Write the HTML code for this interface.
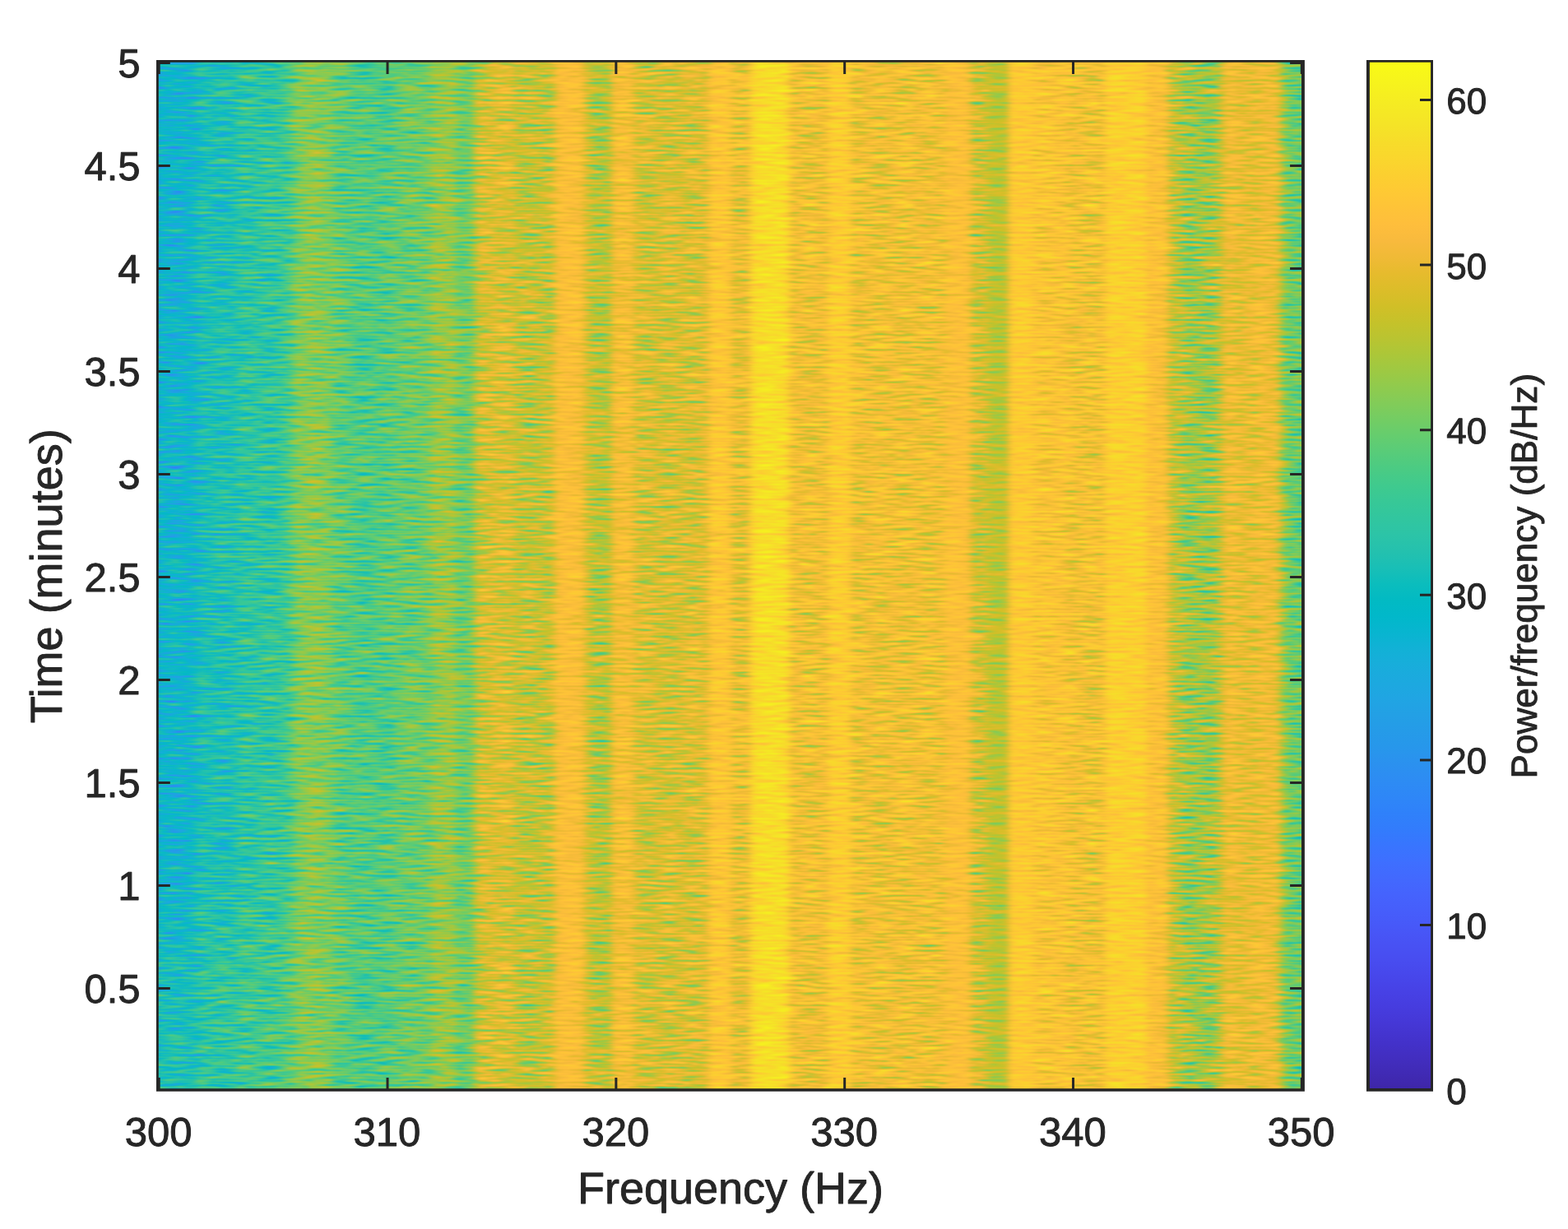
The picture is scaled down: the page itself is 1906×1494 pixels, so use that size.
<!DOCTYPE html>
<html lang="en"><head><meta charset="utf-8"><title>Spectrogram</title>
<style>html,body{margin:0;padding:0;background:#fff}body{width:1906px;height:1494px;overflow:hidden}svg{display:block}text{font-family:"Liberation Sans",Arial,Helvetica,sans-serif;fill:#262626;stroke:#262626;stroke-width:0.9;stroke-linejoin:round;text-rendering:geometricPrecision}</style>
</head><body>
<svg width="1906" height="1494" viewBox="0 0 1906 1494">
<defs>
<linearGradient id="prof" gradientUnits="userSpaceOnUse" x1="180" y1="0" x2="1596" y2="0">
<stop offset="0.0000" stop-color="#75cc00"/>
<stop offset="0.0381" stop-color="#75cc00"/>
<stop offset="0.0466" stop-color="#83cc00"/>
<stop offset="0.0734" stop-color="#85cc00"/>
<stop offset="0.0805" stop-color="#8dcc00"/>
<stop offset="0.1102" stop-color="#8fbf00"/>
<stop offset="0.1201" stop-color="#97b200"/>
<stop offset="0.1285" stop-color="#aa9900"/>
<stop offset="0.1412" stop-color="#ae9900"/>
<stop offset="0.1540" stop-color="#aa9900"/>
<stop offset="0.1624" stop-color="#a2b200"/>
<stop offset="0.1751" stop-color="#9db200"/>
<stop offset="0.1836" stop-color="#9bb200"/>
<stop offset="0.2048" stop-color="#9db200"/>
<stop offset="0.2133" stop-color="#a2b200"/>
<stop offset="0.2401" stop-color="#a6a600"/>
<stop offset="0.2472" stop-color="#b29900"/>
<stop offset="0.2613" stop-color="#b29900"/>
<stop offset="0.2669" stop-color="#a6a600"/>
<stop offset="0.2768" stop-color="#a6a600"/>
<stop offset="0.2839" stop-color="#c4b200"/>
<stop offset="0.2966" stop-color="#c8b200"/>
<stop offset="0.3107" stop-color="#c8b200"/>
<stop offset="0.3178" stop-color="#c0bf00"/>
<stop offset="0.3355" stop-color="#c0bf00"/>
<stop offset="0.3460" stop-color="#c2bf00"/>
<stop offset="0.3517" stop-color="#d65900"/>
<stop offset="0.3616" stop-color="#d74c00"/>
<stop offset="0.3715" stop-color="#d65900"/>
<stop offset="0.3785" stop-color="#c2b200"/>
<stop offset="0.3842" stop-color="#bcb200"/>
<stop offset="0.3955" stop-color="#bcb200"/>
<stop offset="0.4004" stop-color="#d37300"/>
<stop offset="0.4138" stop-color="#d57300"/>
<stop offset="0.4195" stop-color="#c8b200"/>
<stop offset="0.4379" stop-color="#c6b200"/>
<stop offset="0.4661" stop-color="#c8b200"/>
<stop offset="0.4788" stop-color="#cab200"/>
<stop offset="0.4845" stop-color="#dd5900"/>
<stop offset="0.4979" stop-color="#dd5900"/>
<stop offset="0.5028" stop-color="#cfb200"/>
<stop offset="0.5141" stop-color="#cfb200"/>
<stop offset="0.5198" stop-color="#e95900"/>
<stop offset="0.5311" stop-color="#ed4c00"/>
<stop offset="0.5473" stop-color="#eb5900"/>
<stop offset="0.5537" stop-color="#d3a600"/>
<stop offset="0.5685" stop-color="#d3a600"/>
<stop offset="0.5819" stop-color="#d3a600"/>
<stop offset="0.5869" stop-color="#e15900"/>
<stop offset="0.6010" stop-color="#e15900"/>
<stop offset="0.6059" stop-color="#d3a600"/>
<stop offset="0.6427" stop-color="#d3a600"/>
<stop offset="0.6822" stop-color="#d3a600"/>
<stop offset="0.6879" stop-color="#d84c00"/>
<stop offset="0.7034" stop-color="#d84c00"/>
<stop offset="0.7090" stop-color="#c6b200"/>
<stop offset="0.7189" stop-color="#c4b200"/>
<stop offset="0.7246" stop-color="#bc6600"/>
<stop offset="0.7366" stop-color="#bc6600"/>
<stop offset="0.7408" stop-color="#df4c00"/>
<stop offset="0.7556" stop-color="#e04c00"/>
<stop offset="0.7613" stop-color="#db8000"/>
<stop offset="0.7874" stop-color="#d98000"/>
<stop offset="0.7945" stop-color="#d5a600"/>
<stop offset="0.8192" stop-color="#d5a600"/>
<stop offset="0.8249" stop-color="#e34c00"/>
<stop offset="0.8545" stop-color="#e34c00"/>
<stop offset="0.8595" stop-color="#d85900"/>
<stop offset="0.8729" stop-color="#d85900"/>
<stop offset="0.8785" stop-color="#c2cc00"/>
<stop offset="0.8884" stop-color="#bad900"/>
<stop offset="0.8927" stop-color="#b4d900"/>
<stop offset="0.9124" stop-color="#b4d900"/>
<stop offset="0.9195" stop-color="#bed900"/>
<stop offset="0.9251" stop-color="#cf8000"/>
<stop offset="0.9322" stop-color="#d18000"/>
<stop offset="0.9364" stop-color="#cd8c00"/>
<stop offset="0.9506" stop-color="#cd8c00"/>
<stop offset="0.9548" stop-color="#d17300"/>
<stop offset="0.9689" stop-color="#cf8000"/>
<stop offset="0.9753" stop-color="#b0bf00"/>
<stop offset="0.9816" stop-color="#a4bf00"/>
<stop offset="1.0000" stop-color="#a4bf00"/>
</linearGradient>
<linearGradient id="cb" gradientUnits="userSpaceOnUse" x1="0" y1="74.56" x2="0" y2="1325.1">
<stop offset="0.0000" stop-color="#f9fb15"/>
<stop offset="0.0159" stop-color="#f7f51b"/>
<stop offset="0.0317" stop-color="#f6ef20"/>
<stop offset="0.0476" stop-color="#f5e924"/>
<stop offset="0.0635" stop-color="#f5e327"/>
<stop offset="0.0794" stop-color="#f7dc2a"/>
<stop offset="0.0952" stop-color="#fad62d"/>
<stop offset="0.1111" stop-color="#fccf30"/>
<stop offset="0.1270" stop-color="#fec934"/>
<stop offset="0.1429" stop-color="#fec338"/>
<stop offset="0.1587" stop-color="#febe3c"/>
<stop offset="0.1746" stop-color="#f8ba3d"/>
<stop offset="0.1905" stop-color="#f0ba36"/>
<stop offset="0.2063" stop-color="#e6bb2d"/>
<stop offset="0.2222" stop-color="#dcbd29"/>
<stop offset="0.2381" stop-color="#d1bf27"/>
<stop offset="0.2540" stop-color="#c5c22a"/>
<stop offset="0.2698" stop-color="#b9c431"/>
<stop offset="0.2857" stop-color="#abc739"/>
<stop offset="0.3016" stop-color="#9dc943"/>
<stop offset="0.3175" stop-color="#8fcb4e"/>
<stop offset="0.3333" stop-color="#81cc59"/>
<stop offset="0.3492" stop-color="#72cd64"/>
<stop offset="0.3651" stop-color="#64cd6f"/>
<stop offset="0.3810" stop-color="#57cc7a"/>
<stop offset="0.3968" stop-color="#4acb84"/>
<stop offset="0.4127" stop-color="#3fca8e"/>
<stop offset="0.4286" stop-color="#37c897"/>
<stop offset="0.4444" stop-color="#31c69f"/>
<stop offset="0.4603" stop-color="#2cc4a7"/>
<stop offset="0.4762" stop-color="#24c1ae"/>
<stop offset="0.4921" stop-color="#19bfb6"/>
<stop offset="0.5079" stop-color="#0bbdbd"/>
<stop offset="0.5238" stop-color="#02bac3"/>
<stop offset="0.5397" stop-color="#01b8ca"/>
<stop offset="0.5556" stop-color="#08b5d0"/>
<stop offset="0.5714" stop-color="#12b1d6"/>
<stop offset="0.5873" stop-color="#18addb"/>
<stop offset="0.6032" stop-color="#1ca9df"/>
<stop offset="0.6190" stop-color="#20a5e3"/>
<stop offset="0.6349" stop-color="#23a0e5"/>
<stop offset="0.6508" stop-color="#259be8"/>
<stop offset="0.6667" stop-color="#2797eb"/>
<stop offset="0.6825" stop-color="#2b91ef"/>
<stop offset="0.6984" stop-color="#2d8cf3"/>
<stop offset="0.7143" stop-color="#2e87f7"/>
<stop offset="0.7302" stop-color="#2f81fa"/>
<stop offset="0.7460" stop-color="#327cfc"/>
<stop offset="0.7619" stop-color="#3875fe"/>
<stop offset="0.7778" stop-color="#3e6fff"/>
<stop offset="0.7937" stop-color="#4269fe"/>
<stop offset="0.8095" stop-color="#4563fd"/>
<stop offset="0.8254" stop-color="#465efb"/>
<stop offset="0.8413" stop-color="#4758f8"/>
<stop offset="0.8571" stop-color="#4852f4"/>
<stop offset="0.8730" stop-color="#484df0"/>
<stop offset="0.8889" stop-color="#4747eb"/>
<stop offset="0.9048" stop-color="#4741e5"/>
<stop offset="0.9206" stop-color="#463cde"/>
<stop offset="0.9365" stop-color="#4537d5"/>
<stop offset="0.9524" stop-color="#4332cb"/>
<stop offset="0.9683" stop-color="#422ec0"/>
<stop offset="0.9841" stop-color="#402ab4"/>
<stop offset="1.0000" stop-color="#3e26a8"/>
</linearGradient>
<filter id="hm" filterUnits="userSpaceOnUse" x="180" y="60" width="1416" height="1280" color-interpolation-filters="sRGB">
<feTurbulence type="fractalNoise" baseFrequency="0.035 0.33" numOctaves="1" seed="7" result="n"/>
<feColorMatrix in="n" type="matrix" values="1 0 0 0 0 1 0 0 0 0 1 0 0 0 0 0 0 0 0 1" result="nc"/>
<feTurbulence type="fractalNoise" baseFrequency="0.3 0.25" numOctaves="1" seed="18" result="m"/>
<feColorMatrix in="m" type="matrix" values="1 0 0 0 0 1 0 0 0 0 1 0 0 0 0 0 0 0 0 1" result="nf"/>
<feComposite in="nc" in2="nf" operator="arithmetic" k1="0" k2="0.720" k3="0.500" k4="-0.1100" result="ng1"/>
<feColorMatrix in="ng1" type="matrix" values="1 0 0 0 0 0 1 0 0 0 0 0 1 0 0 0 0 0 0 1" result="ng2"/>
<feComponentTransfer in="ng2" result="ng"><feFuncR type="table" tableValues="0 0.1 0.2 0.3 0.4 0.5 0.57 0.64 0.71 0.78 0.85"/><feFuncG type="table" tableValues="0 0.1 0.2 0.3 0.4 0.5 0.57 0.64 0.71 0.78 0.85"/><feFuncB type="table" tableValues="0 0.1 0.2 0.3 0.4 0.5 0.57 0.64 0.71 0.78 0.85"/></feComponentTransfer>
<feColorMatrix in="SourceGraphic" type="matrix" values="0 1 0 0 0 0 1 0 0 0 0 1 0 0 0 0 0 0 0 1" result="amp"/>
<feColorMatrix in="SourceGraphic" type="matrix" values="1 0 0 0 0 1 0 0 0 0 1 0 0 0 0 0 0 0 0 1" result="mean"/>
<feComposite in="amp" in2="ng" operator="arithmetic" k1="1" k2="-0.5" k3="0" k4="0.5" result="t1"/>
<feColorMatrix in="t1" type="matrix" values="1 0 0 0 0 0 1 0 0 0 0 0 1 0 0 0 0 0 0 1" result="t2"/>
<feComposite in="mean" in2="t2" operator="arithmetic" k1="0" k2="1" k3="1.000" k4="-0.5000" result="v"/>
<feColorMatrix in="v" type="matrix" values="1 0 0 0 0 0 1 0 0 0 0 0 1 0 0 0 0 0 0 1" result="v1"/>
<feComponentTransfer in="v1" result="c">
<feFuncR type="table" tableValues=".242 .250 .258 .265 .271 .275 .278 .280 .281 .281 .280 .276 .270 .260 .244 .221 .196 .183 .179 .176 .169 .154 .146 .138 .125 .111 .095 .069 .030 .004 .007 .043 .096 .141 .172 .194 .216 .247 .291 .341 .391 .446 .504 .562 .617 .672 .724 .774 .820 .863 .903 .939 .973 .996 .997 .995 .989 .979 .968 .961 .960 .963 .969 .977"/>
<feFuncG type="table" tableValues=".150 .165 .182 .198 .215 .234 .256 .278 .301 .323 .345 .367 .389 .412 .436 .460 .485 .507 .529 .550 .570 .590 .609 .628 .646 .663 .680 .695 .708 .720 .731 .741 .750 .758 .767 .776 .784 .792 .797 .801 .803 .802 .799 .794 .788 .779 .770 .760 .750 .741 .733 .729 .730 .743 .766 .789 .814 .839 .864 .889 .913 .937 .961 .984"/>
<feFuncB type="table" tableValues=".660 .708 .751 .795 .836 .871 .899 .922 .941 .958 .972 .983 .991 .995 .999 .997 .989 .980 .968 .952 .936 .922 .908 .897 .888 .876 .860 .839 .816 .792 .766 .739 .712 .684 .655 .625 .592 .557 .519 .479 .435 .391 .348 .304 .261 .223 .191 .165 .153 .160 .177 .210 .239 .237 .220 .203 .189 .177 .164 .154 .142 .127 .106 .081"/>
</feComponentTransfer>
<feGaussianBlur in="c" stdDeviation="3.5 0.6"/>
</filter>
<linearGradient id="ov1" gradientUnits="userSpaceOnUse" x1="0" y1="1060" x2="0" y2="1330"><stop offset="0" stop-color="#b8bf00" stop-opacity="0"/><stop offset="0.45" stop-color="#b8bf00" stop-opacity="0.18"/><stop offset="1" stop-color="#b8bf00" stop-opacity="0.22"/></linearGradient>
<clipPath id="axclip"><rect x="191" y="74.1" width="1393.9" height="1251.75"/></clipPath>
</defs>
<rect x="0" y="0" width="1906" height="1494" fill="#fff"/>
<g clip-path="url(#axclip)"><g filter="url(#hm)">
<rect x="180" y="60" width="1416" height="1280" fill="url(#prof)"/>
<rect x="180" y="1060" width="174" height="280" fill="url(#ov1)"/>
</g></g>
<path fill="#262626" d="M190 73.1H192.8V1326.85H190ZM1582 73.1H1585.9V1326.85H1582ZM190 73.1H1585.9V75.7H190ZM190 1323.25H1585.9V1326.85H190ZM191.7 1310.1H194.7V1326.85H191.7ZM191.7 73.1H194.7V89.9H191.7ZM469.53 1310.1H472.53V1326.85H469.53ZM469.53 73.1H472.53V89.9H469.53ZM747.36 1310.1H750.36V1326.85H747.36ZM747.36 73.1H750.36V89.9H747.36ZM1025.19 1310.1H1028.19V1326.85H1025.19ZM1025.19 73.1H1028.19V89.9H1025.19ZM1303.02 1310.1H1306.02V1326.85H1303.02ZM1303.02 73.1H1306.02V89.9H1303.02ZM1580.85 1310.1H1583.85V1326.85H1580.85ZM1580.85 73.1H1583.85V89.9H1580.85ZM190 1200H206.8V1203H190ZM1568.1 1200H1585.9V1203H1568.1ZM190 1075H206.8V1078H190ZM1568.1 1075H1585.9V1078H1568.1ZM190 950H206.8V953H190ZM1568.1 950H1585.9V953H1568.1ZM190 825H206.8V828H190ZM1568.1 825H1585.9V828H1568.1ZM190 700H206.8V703H190ZM1568.1 700H1585.9V703H1568.1ZM190 575H206.8V578H190ZM1568.1 575H1585.9V578H1568.1ZM190 450H206.8V453H190ZM1568.1 450H1585.9V453H1568.1ZM190 325H206.8V328H190ZM1568.1 325H1585.9V328H1568.1ZM190 200H206.8V203H190ZM1568.1 200H1585.9V203H1568.1ZM190 75H206.8V78H190ZM1568.1 75H1585.9V78H1568.1Z"/>
<rect x="1662" y="73.9" width="79" height="1251.9" fill="url(#cb)"/>
<path fill="#262626" d="M1661 72.9H1664.9V1326.8H1661ZM1739.1 72.9H1742V1326.8H1739.1ZM1661 72.9H1742V75.7H1661ZM1661 1323H1742V1326.8H1661ZM1726 1123H1742V1126H1726ZM1726 922.4H1742V925.4H1726ZM1726 721.8H1742V724.8H1726ZM1726 521.2H1742V524.2H1726ZM1726 320.6H1742V323.6H1726ZM1726 120H1742V123H1726Z"/>
<g font-size="49" text-anchor="end">
<text x="170.5" y="94.25">5</text>
<text x="170.5" y="219.25">4.5</text>
<text x="170.5" y="344.25">4</text>
<text x="170.5" y="469.25">3.5</text>
<text x="170.5" y="594.25">3</text>
<text x="170.5" y="719.25">2.5</text>
<text x="170.5" y="844.25">2</text>
<text x="170.5" y="969.25">1.5</text>
<text x="170.5" y="1094.25">1</text>
<text x="170.5" y="1219.25">0.5</text>
</g>
<g font-size="49" text-anchor="middle">
<text x="192.6" y="1393.4">300</text>
<text x="470.43" y="1393.4">310</text>
<text x="748.26" y="1393.4">320</text>
<text x="1026.09" y="1393.4">330</text>
<text x="1303.92" y="1393.4">340</text>
<text x="1581.75" y="1393.4">350</text>
</g>
<text x="888" y="1463.45" font-size="54" text-anchor="middle">Frequency (Hz)</text>
<text transform="translate(75 700.35) rotate(-90)" font-size="54" text-anchor="middle">Time (minutes)</text>
<g font-size="44.1">
<text x="1758.3" y="137.9">60</text>
<text x="1758.3" y="338.5">50</text>
<text x="1758.3" y="539.1">40</text>
<text x="1758.3" y="739.7">30</text>
<text x="1758.3" y="940.3">20</text>
<text x="1758.3" y="1140.9">10</text>
<text x="1758.3" y="1341.5">0</text>
</g>
<text transform="translate(1867.85 700.2) rotate(-90)" font-size="44.1" text-anchor="middle">Power/frequency (dB/Hz)</text>
</svg>
</body></html>
